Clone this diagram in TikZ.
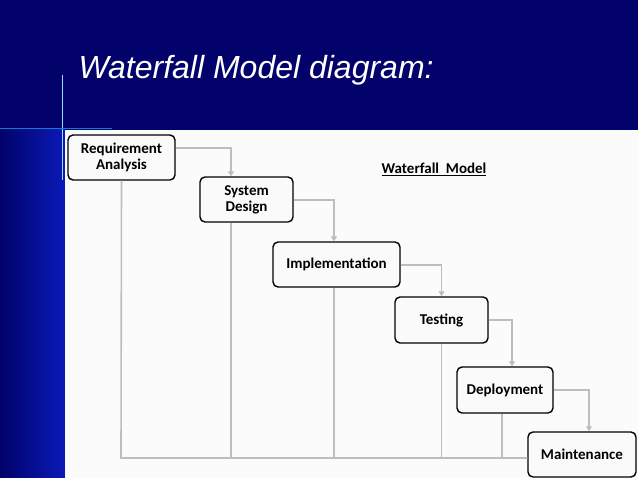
\documentclass[tikz,border=0pt]{standalone}
\usepackage{fontspec}
\setmainfont{Carlito}
\newfontfamily\titlef{Liberation Sans}
\usetikzlibrary{arrows.meta}
\definecolor{navy}{HTML}{02026A}
\definecolor{brightblue}{HTML}{0A1AB8}
\definecolor{conn}{HTML}{BDBDBD}
\begin{document}
\begin{tikzpicture}[x=1pt,y=-1pt,
  box/.style={draw=black,line width=1.4pt,rounded corners=5pt,fill=white!96!gray,inner sep=0pt,font=\bfseries\fontsize{15}{16}\selectfont,align=center},
  link/.style={draw=conn,line width=1.6pt,-{Triangle[length=5pt,width=6pt]}},
  fb/.style={draw=conn,line width=1.6pt}]
\useasboundingbox (0,0) rectangle (638,478);
\fill[navy] (0,0) rectangle (638,478);
\shade[left color=navy,right color=brightblue] (0,130) rectangle (65,478);
\fill[white!97!gray] (65,130) rectangle (638,478);
\draw[cyan!40!white,line width=0.8pt] (62,75) -- (62,180);
\draw[cyan!60!blue,line width=0.8pt] (0,128) -- (112,128);
\node[text=white,font=\titlef\itshape\fontsize{32}{36}\selectfont,anchor=west] (title) at (75,70) {Waterfall Model diagram:};
\node[font=\bfseries\fontsize{15}{16}\selectfont] (wm) at (434,169) {\underline{Waterfall\ \ Model}};
\node[box,minimum width=107pt,minimum height=45pt] (req) at (121.5,157.5) {Requirement\\Analysis};
\node[box,minimum width=93pt,minimum height=45pt] (sys) at (246.5,199.5) {System\\Design};
\node[box,minimum width=127pt,minimum height=45pt] (imp) at (336.5,264.5) {Implementation};
\node[box,minimum width=93pt,minimum height=46pt] (tst) at (441.5,320) {Testing};
\node[box,minimum width=96pt,minimum height=46pt] (dep) at (505,390) {Deployment};
\node[box,minimum width=108pt,minimum height=45pt] (mnt) at (582,454.5) {Maintenance};
\coordinate (base) at (121,458);
\draw[fb] (req.south) -- (base) -- (mnt.west |- base);
\draw[fb] (sys.south -| 231,0) -- (231,458);
\draw[fb] (imp.south -| 334,0) -- (334,458);
\draw[fb] (tst.south) -- (441.5,458);
\draw[fb] (dep.south -| 502,0) -- (502,458);
\draw[link] (req.east |- 0,148) -| (sys.north -| 231,0);
\draw[link] (sys.east |- 0,200) -| (imp.north -| 334,0);
\draw[link] (imp.east |- 0,265) -| (tst.north);
\draw[link] (tst.east |- 0,320) -| (dep.north -| 512,0);
\draw[link] (dep.east |- 0,390) -| (mnt.north -| 589,0);
\end{tikzpicture}
\end{document}
